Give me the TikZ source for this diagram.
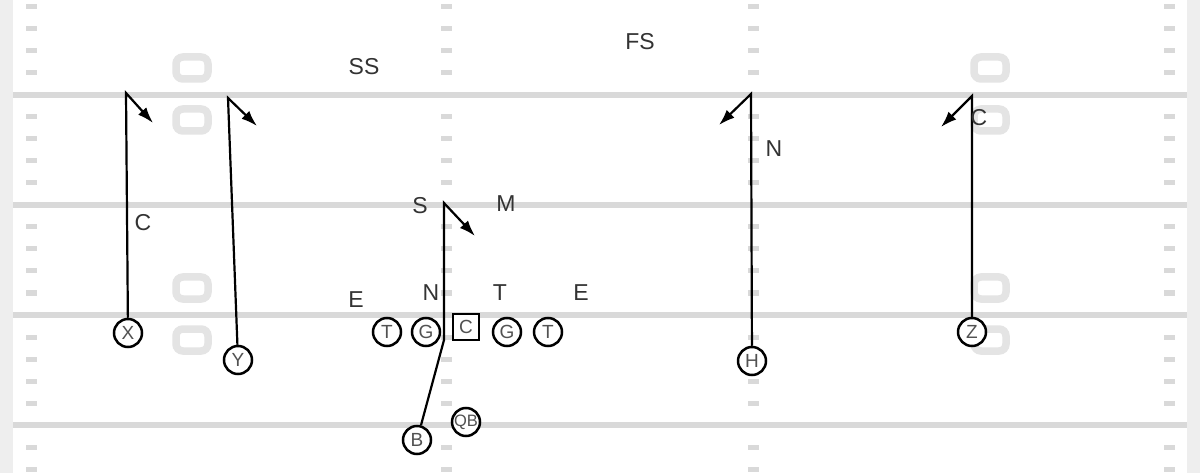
\documentclass[tikz,border=0pt]{standalone}
\usepackage{fontspec}
\setmainfont{Liberation Sans}
\usepackage{tikz}
\usetikzlibrary{arrows.meta}

\definecolor{turf}{HTML}{D9D9D9}
\definecolor{sideline}{HTML}{EEEEEE}
\definecolor{numgray}{HTML}{E4E4E4}
\definecolor{ink}{HTML}{333333}

\begin{document}
\begin{tikzpicture}[x=1pt,y=-1pt,
  player/.style={circle,draw=black,line width=2.5pt,fill=white,minimum size=28pt,inner sep=0pt,text=ink!85,font=\fontsize{19}{19}\selectfont},
  snapper/.style={rectangle,draw=black,line width=2.5pt,fill=white,minimum size=26pt,inner sep=0pt,text=ink!85,font=\fontsize{19}{19}\selectfont},
  defender/.style={text=ink,inner sep=0pt,font=\fontsize{23}{23}\selectfont},
  route/.style={line width=2.2pt,black},
  tip/.style={-{Latex[length=16pt,width=11pt]}}]
%field
\fill[white] (0,0) rectangle (1200,473);
\useasboundingbox (0,0) rectangle (1200,473);
\fill[sideline] (0,0) rectangle (13,473);
\fill[sideline] (1187,0) rectangle (1200,473);
\foreach \ly in {95,205,315,425}
  \fill[turf] (13,\ly-3) rectangle (1187,\ly+3);
\foreach \hx in {31,446,753,1169}
  \foreach \hy in {7,29,51,73,117,139,161,183,227,249,271,293,337,359,381,403,447,469}
    \fill[turf] (\hx-5.5,\hy-2.5) rectangle (\hx+5.5,\hy+2.5);
\foreach \nx in {192,990}
  \foreach \ny in {68,120,288,340}
    \draw[numgray,line width=7.5pt,rounded corners=7pt] (\nx-16,\ny-11) rectangle (\nx+16,\ny+11);

%offense
\node[player] (X) at (128,333) {X};
\node[player] (Y) at (238,360) {Y};
\node[player] (lt) at (387,332) {T};
\node[player] (lg) at (426,332) {G};
\node[snapper] (C) at (466,327) {C};
\node[player] (rg) at (507,332) {G};
\node[player] (rt) at (548,332) {T};
\node[player,font=\fontsize{16.5}{16.5}\selectfont] (QB) at (466,422) {QB};
\node[player] (B) at (417,440) {B};
\node[player] (H) at (752,361) {H};
\node[player] (Z) at (972,332) {Z};

%routes
\coordinate (xtop) at (126,93);   \coordinate (xend) at (153,123);
\coordinate (ytop) at (228,98);   \coordinate (yend) at (257,126);
\coordinate (bcut) at (444,340);  \coordinate (btop) at (444,203);
\coordinate (bend) at (475,236);
\coordinate (htop) at (751,94);   \coordinate (hend) at (719,125);
\coordinate (ztop) at (972,96);   \coordinate (zend) at (941,127);
\draw[route,tip] (X) -- (xtop) -- (xend);
\draw[route,tip] (Y) -- (ytop) -- (yend);
\draw[route,tip] (B) -- (bcut) -- (btop) -- (bend);
\draw[route,tip] (H) -- (htop) -- (hend);
\draw[route,tip] (Z) -- (ztop) -- (zend);

%defense
\node[defender] (fs) at (640,42) {FS};
\node[defender] (ss) at (364,67) {SS};
\node[defender] (cl) at (143,223) {C};
\node[defender] (cr) at (979,118) {C};
\node[defender] (nr) at (774,149) {N};
\node[defender] (sam) at (420,206) {S};
\node[defender] (mike) at (506,204) {M};
\node[defender] (el) at (356,300) {E};
\node[defender] (nt) at (431,293) {N};
\node[defender] (dt) at (500,293) {T};
\node[defender] (er) at (581,293) {E};
\end{tikzpicture}
\end{document}
